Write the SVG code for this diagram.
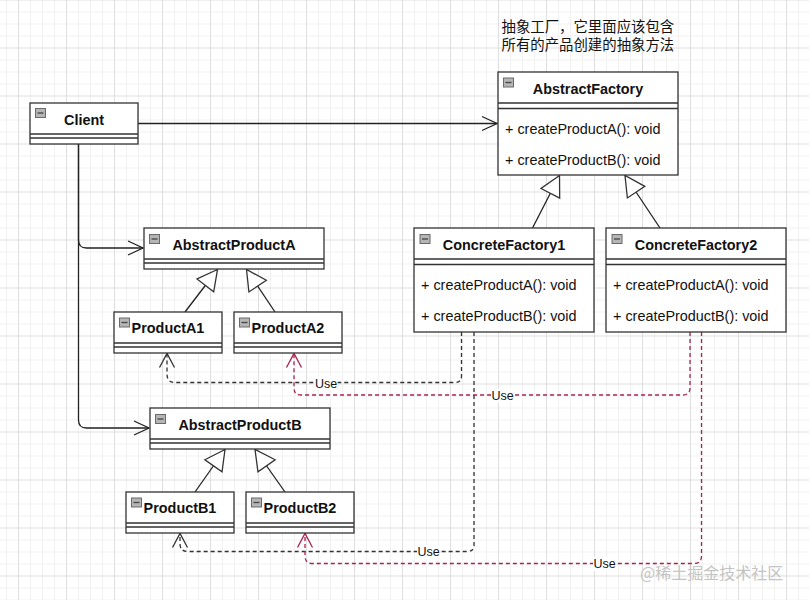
<svg xmlns="http://www.w3.org/2000/svg" width="809" height="600" viewBox="0 0 809 600">
<defs>
<pattern id="grid" patternUnits="userSpaceOnUse" x="18" y="-0.5" width="48" height="48">
<path d="M12.5,0 V48 M24.5,0 V48 M36.5,0 V48 M0,12.5 H48 M0,24.5 H48 M0,36.5 H48" stroke="#f1f1f1" stroke-width="1" fill="none"/>
<path d="M0.5,0 V48 M0,0.5 H48" stroke="#dedede" stroke-width="1" fill="none"/>
</pattern>
<marker id="open" markerUnits="userSpaceOnUse" viewBox="-16 -9 18 18" refX="0" refY="0" markerWidth="18" markerHeight="18" orient="auto" overflow="visible">
<path d="M-15,-7 L0,0 L-15,7" fill="none" stroke="context-stroke" stroke-width="1.3"/>
</marker>
<marker id="openK" markerUnits="userSpaceOnUse" refX="0" refY="0" markerWidth="18" markerHeight="18" orient="auto" overflow="visible">
<path d="M-14,-7.5 L0,0 L-14,7.5" fill="none" stroke="#333" stroke-width="1.3"/>
</marker>
<marker id="openR" markerUnits="userSpaceOnUse" refX="0" refY="0" markerWidth="18" markerHeight="18" orient="auto" overflow="visible">
<path d="M-14,-7.5 L0,0 L-14,7.5" fill="none" stroke="#a8234f" stroke-width="1.3"/>
</marker>
<marker id="openS" markerUnits="userSpaceOnUse" refX="0" refY="0" markerWidth="18" markerHeight="18" orient="auto" overflow="visible">
<path d="M-15,-7 L0,0 L-15,7" fill="none" stroke="#222" stroke-width="1.3"/>
</marker>
<marker id="tri" markerUnits="userSpaceOnUse" refX="0" refY="0" markerWidth="24" markerHeight="24" orient="auto" overflow="visible">
<path d="M0,0 L-20,-10.5 L-20,10.5 Z" fill="#fff" stroke="#333" stroke-width="1.3"/>
</marker>
<g id="icon">
<rect x="0" y="0" width="10" height="9" fill="#b5b5b5" stroke="#6a6a6a" stroke-width="1"/>
<line x1="2" y1="4.5" x2="8" y2="4.5" stroke="#444" stroke-width="1.3"/>
</g>
</defs>
<style>
.box{fill:#fff;stroke:#333;stroke-width:1.3}
.sep{stroke:#333;stroke-width:1.3;fill:none}
.title{font-family:"Liberation Sans",Arial,sans-serif;font-weight:bold;font-size:14.4px;fill:#111;text-anchor:middle}
.meth{font-family:"Liberation Sans",Arial,sans-serif;font-size:14.4px;fill:#111}
.note{font-family:"Liberation Sans","Noto Sans CJK SC",sans-serif;font-size:14.4px;fill:#111}
.lbl{font-family:"Liberation Sans",Arial,sans-serif;font-size:12.5px;fill:#111;text-anchor:middle}
.lblbg{fill:#fff}
.solid{fill:none;stroke:#222;stroke-width:1.3}
.dk{fill:none;stroke:#333;stroke-width:1.3;stroke-dasharray:4 3}
.rd{fill:none;stroke:#a8234f;stroke-width:1.3;stroke-dasharray:4 3}
.wm{font-family:"Noto Sans CJK SC","Liberation Sans",sans-serif;font-size:16px;fill:#c4c4c4}
</style>
<rect width="809" height="600" fill="#fff"/>
<rect width="809" height="600" fill="url(#grid)"/>

<text class="note" x="501.5" y="31.6">抽象工厂，它里面应该包含</text>
<text class="note" x="501.5" y="49.8">所有的产品创建的抽象方法</text>

<g id="connectors">
<path class="solid" d="M138,123.5 H497" marker-end="url(#openS)"/>
<path class="solid" d="M78.5,144 V240 Q78.5,248 86.5,248 H143" marker-end="url(#openS)"/>
<path class="solid" d="M78.5,144 V420 Q78.5,428 86.5,428 H149" marker-end="url(#openS)"/>
<path class="solid" d="M532.5,228 L559.5,175.5" marker-end="url(#tri)"/>
<path class="solid" d="M660,228 L625,175.5" marker-end="url(#tri)"/>
<path class="solid" d="M185,312 L217.5,269.5" marker-end="url(#tri)"/>
<path class="solid" d="M275,312 L246.5,269.5" marker-end="url(#tri)"/>
<path class="solid" d="M195,492 L225,449.5" marker-end="url(#tri)"/>
<path class="solid" d="M285,492 L255,449.5" marker-end="url(#tri)"/>
<path class="dk" d="M461.5,332 V376 Q461.5,382.5 455,382.5 H175 Q167,382.5 167,374 V353.5" marker-end="url(#openK)"/>
<path class="rd" d="M690,332 V388 Q690,395 683,395 H301 Q294,395 294,388 V353.5" marker-end="url(#openR)"/>
<path class="dk" d="M474,332 V545 Q474,551.5 467,551.5 H188 Q180,551.5 180,544 V533.5" marker-end="url(#openK)"/>
<path class="rd" d="M701.5,332 V556 Q701.5,563.5 694,563.5 H313 Q305,563.5 305,556 V533.5" marker-end="url(#openR)"/>
<rect class="lblbg" x="314.5" y="376" width="23" height="14"/>
<text class="lbl" x="326" y="387.5">Use</text>
<rect class="lblbg" x="491" y="388.5" width="23" height="14"/>
<text class="lbl" x="502.5" y="400">Use</text>
<rect class="lblbg" x="417" y="545" width="23" height="14"/>
<text class="lbl" x="428.5" y="556">Use</text>
<rect class="lblbg" x="593" y="557" width="23" height="14"/>
<text class="lbl" x="604.5" y="568">Use</text>
</g>

<g id="Client">
<rect class="box" x="30" y="103" width="108" height="41"/>
<path class="sep" d="M30,134 H138 M30,138 H138"/>
<use href="#icon" x="35.5" y="108.5"/>
<text class="title" x="84" y="124.5">Client</text>
</g>

<g id="AbstractFactory">
<rect class="box" x="498" y="72" width="180" height="103"/>
<path class="sep" d="M498,103 H678 M498,108.5 H678"/>
<use href="#icon" x="503.5" y="78"/>
<text class="title" x="588" y="93.5">AbstractFactory</text>
<text class="meth" x="505" y="133.5">+ createProductA(): void</text>
<text class="meth" x="505" y="164.5">+ createProductB(): void</text>
</g>

<g id="ConcreteFactory1">
<rect class="box" x="414" y="228" width="180" height="104"/>
<path class="sep" d="M414,259 H594 M414,264.5 H594"/>
<use href="#icon" x="420" y="234.5"/>
<text class="title" x="504" y="249.5">ConcreteFactory1</text>
<text class="meth" x="421" y="290">+ createProductA(): void</text>
<text class="meth" x="421" y="320.8">+ createProductB(): void</text>
</g>

<g id="ConcreteFactory2">
<rect class="box" x="606" y="228" width="180" height="104"/>
<path class="sep" d="M606,259 H786 M606,264.5 H786"/>
<use href="#icon" x="612" y="234.5"/>
<text class="title" x="696" y="249.5">ConcreteFactory2</text>
<text class="meth" x="613" y="290">+ createProductA(): void</text>
<text class="meth" x="613" y="320.8">+ createProductB(): void</text>
</g>

<g id="AbstractProductA">
<rect class="box" x="144" y="228" width="180" height="41"/>
<path class="sep" d="M144,259 H324 M144,263 H324"/>
<use href="#icon" x="149.5" y="234.5"/>
<text class="title" x="234" y="249.5">AbstractProductA</text>
</g>

<g id="ProductA1">
<rect class="box" x="114" y="312" width="108" height="41"/>
<path class="sep" d="M114,343 H222 M114,347 H222"/>
<use href="#icon" x="119.5" y="318"/>
<text class="title" x="168" y="333">ProductA1</text>
</g>

<g id="ProductA2">
<rect class="box" x="234" y="312" width="108" height="41"/>
<path class="sep" d="M234,343 H342 M234,347 H342"/>
<use href="#icon" x="239.5" y="318"/>
<text class="title" x="288" y="333">ProductA2</text>
</g>

<g id="AbstractProductB">
<rect class="box" x="150" y="408" width="180" height="41"/>
<path class="sep" d="M150,439 H330 M150,443 H330"/>
<use href="#icon" x="155.5" y="414.5"/>
<text class="title" x="240" y="429.5">AbstractProductB</text>
</g>

<g id="ProductB1">
<rect class="box" x="126" y="492" width="108" height="41"/>
<path class="sep" d="M126,523 H234 M126,527 H234"/>
<use href="#icon" x="131.5" y="498"/>
<text class="title" x="180" y="513">ProductB1</text>
</g>

<g id="ProductB2">
<rect class="box" x="246" y="492" width="108" height="41"/>
<path class="sep" d="M246,523 H354 M246,527 H354"/>
<use href="#icon" x="251.5" y="498"/>
<text class="title" x="300" y="513">ProductB2</text>
</g>

<text class="wm" x="640" y="579">@稀土掘金技术社区</text>
</svg>
